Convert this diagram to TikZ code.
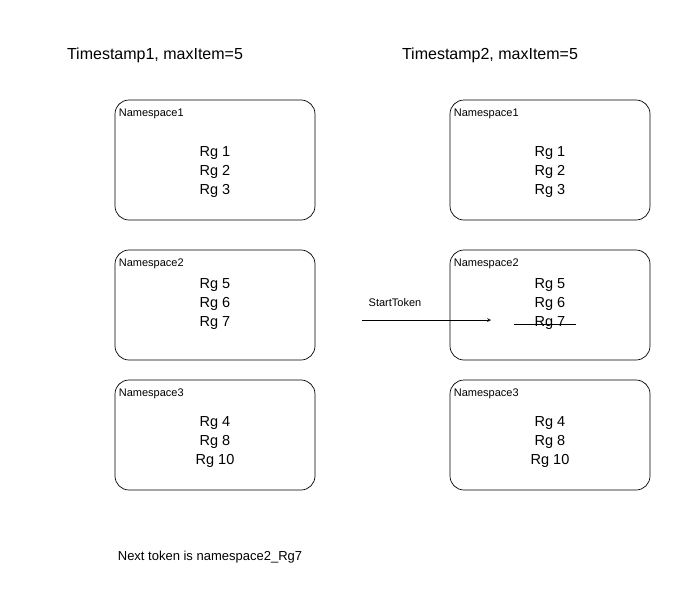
\documentclass[tikz,border=0pt]{standalone}
\usepackage{fontspec}
\setmainfont{Liberation Sans}
\begin{document}
\begin{tikzpicture}[x=1pt,y=-1pt,
  nsbox/.style={draw,rounded corners=14pt,minimum width=200pt,line width=0.7pt},
  nslabel/.style={anchor=north west,font=\fontsize{11}{12}\selectfont,inner sep=0pt},
  rglines/.style={align=center,font=\fontsize{14.5}{19}\selectfont},
  title/.style={font=\fontsize{16}{18}\selectfont}]
\useasboundingbox (0,0) rectangle (681,611);
\node[title] (t1) at (155,55) {Timestamp1, maxItem=5};
\node[title] (t2) at (490,55) {Timestamp2, maxItem=5};
\foreach \c/\xx in {L/215,R/550}{
  \node[nsbox,minimum height=120pt] (\c a) at (\xx,160) {};
  \node[nsbox,minimum height=110pt] (\c b) at (\xx,305) {};
  \node[nsbox,minimum height=110pt] (\c c) at (\xx,435) {};
  \node[nslabel] (\c al) at ([shift={(4,9)}]\c a.north west) {Namespace1};
  \node[nslabel] (\c bl) at ([shift={(4,9)}]\c b.north west) {Namespace2};
  \node[nslabel] (\c cl) at ([shift={(4,9)}]\c c.north west) {Namespace3};
  \node[rglines] (\c at) at (\xx+0,172) {Rg 1\\Rg 2\\Rg 3};
  \node[rglines] (\c bt) at (\xx+0,304) {Rg 5\\Rg 6\\Rg 7};
  \node[rglines] (\c ct) at (\xx+0,442) {Rg 4\\Rg 8\\Rg 10};
}
\coordinate (s1) at (514,324);
\coordinate (s2) at (576,324);
\draw[line width=0.7pt] (s1) -- (s2);
\node[font=\fontsize{11}{12}\selectfont] (st) at (395,303) {StartToken};
\coordinate (a1) at (362,320);
\coordinate (a2) at (491,320);
\draw[-stealth,line width=0.7pt] (a1) -- (a2);
\node[font=\fontsize{13}{15}\selectfont] (nt) at (210,557) {Next token is namespace2\_Rg7};
\end{tikzpicture}
\end{document}
